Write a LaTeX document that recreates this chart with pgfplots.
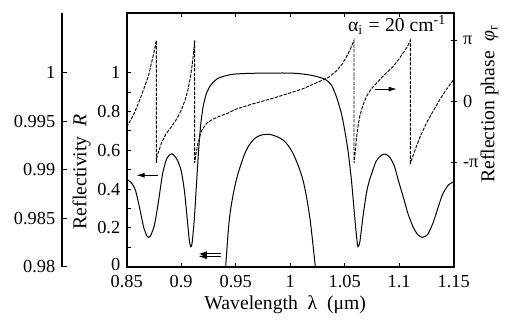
\documentclass[border=0pt]{standalone}
\usepackage{fontspec}
\setmainfont{Liberation Serif}
\usepackage{pgfplots}
\pgfplotsset{compat=1.18}
\usetikzlibrary{arrows.meta}

\begin{document}
\fontsize{11}{13}\selectfont
\begin{tikzpicture}
\pgfplotsset{
  common/.style={scale only axis, width=196.2pt, height=152.4pt,
    xmin=0.85, xmax=1.15, at={(0,0)}, anchor=south west,
    /pgf/number format/assume math mode=true,
    tick style={line width=0.6pt, black},
    major tick length=2.4pt, minor tick length=2.4pt,
    label style={font=\fontsize{11.8}{14}\selectfont}},
  phasestyle/.style={black, line width=0.55pt, dash pattern=on 2pt off 0.8pt},
}
\path[use as bounding box] (-76pt,-36.8pt) rectangle (233pt,160pt);

% ---------- main axis: reflectivity R ----------
\begin{axis}[common, ymin=0, ymax=1.3093,
  axis line style={line width=1.1pt},
  tick align=inside,
  xtick={0.85,0.9,0.95,1,1.05,1.1,1.15},
  xticklabels={0.85,0.9,0.95,1,1.05,1.1,1.15},
  xticklabel style={yshift=-1.3pt},
  xtick pos=both,
  ytick={0,0.2,0.4,0.6,0.8,1},
  yticklabels={\raisebox{3pt}{0},0.2,0.4,0.6,0.8,1},
  minor ytick={0.1,0.3,0.5,0.7,0.9},
  ytick pos=left,
  xlabel={Wavelength\ \ λ\ \ (μm)},
  xlabel style={at={(axis description cs:0.485,-0.150)}, anchor=center},
  ylabel={Reflectivity\ \ \textit{R}},
  ylabel style={at={(axis description cs:-0.138,0.373)}, anchor=center},
]
\addplot[black, line width=0.6pt, smooth, tension=0.4] coordinates {
(0.850,0.450) (0.854,0.435) (0.858,0.395) (0.862,0.300) (0.8655,0.205)
(0.8685,0.158) (0.8700,0.151) (0.8720,0.160) (0.8755,0.215) (0.8790,0.330)
(0.8830,0.480) (0.8870,0.560) (0.8915,0.582) (0.8960,0.555) (0.9000,0.495)
(0.9030,0.390) (0.9055,0.250) (0.9075,0.135) (0.9088,0.103) (0.9100,0.120)
(0.9120,0.240) (0.9140,0.420) (0.9160,0.600) (0.9180,0.735) (0.9200,0.820)
(0.9230,0.890) (0.9270,0.935) (0.9330,0.968) (0.9400,0.983) (0.9480,0.992)
(0.9600,0.996) (0.9800,0.998) (1.0000,0.998) (1.0100,0.994) (1.0200,0.986)
(1.0280,0.974) (1.0330,0.962) (1.0380,0.935) (1.0425,0.875) (1.0470,0.790)
(1.0500,0.705) (1.0530,0.600) (1.0562,0.447) (1.0590,0.270) (1.0610,0.150)
(1.0622,0.103) (1.0640,0.130) (1.0668,0.258) (1.0700,0.380) (1.0730,0.450)
(1.0790,0.545) (1.0840,0.575) (1.0875,0.580) (1.0915,0.563) (1.0955,0.520)
(1.1000,0.430) (1.1040,0.355) (1.1080,0.275) (1.1127,0.206) (1.1170,0.165)
(1.1213,0.151) (1.1260,0.165) (1.1310,0.224) (1.1360,0.310) (1.1400,0.375)
(1.1450,0.420) (1.1500,0.438)
};
\draw[-{Latex[length=5pt,width=3pt]}, line width=0.6pt] (axis cs:0.8788,0.471) -- (axis cs:0.8589,0.471);
\draw[-{Latex[length=5pt,width=3.4pt]}, line width=0.6pt] (axis cs:0.937,0.0655) -- (axis cs:0.916,0.0655);
\draw[-{Latex[length=5pt,width=3.4pt]}, line width=0.6pt] (axis cs:0.937,0.0526) -- (axis cs:0.916,0.0526);
\draw[-{Latex[length=5pt,width=3pt]}, line width=0.6pt] (axis cs:1.0775,0.9155) -- (axis cs:1.098,0.9155);
\node[anchor=east, inner sep=0pt, font=\fontsize{11.8}{14}\selectfont] at (axis cs:1.1433,1.246) {α\textsubscript{i}\;=\;20\ cm\textsuperscript{-1}};
\end{axis}

% ---------- phase axis (right) ----------
\begin{axis}[common, ymin=-2.692, ymax=1.452,
  hide x axis, axis y line*=right,
  axis line style={line width=1.1pt},
  tick align=center, major tick length=3.5pt,
  ytick={-1,0,1}, yticklabels={-π,0,π},
  ylabel={Reflection phase\ \ \textit{φ}\textsubscript{r}},
  ylabel style={at={(axis description cs:1.110,0.641)}, anchor=center},
]
\addplot[phasestyle] coordinates {
(0.850,-0.42) (0.853,-0.32) (0.857,-0.19) (0.862,0.03) (0.8665,0.245)
(0.870,0.42) (0.8727,0.626) (0.875,0.80) (0.8772,1.0) (0.8772,-1.0)
(0.878,-0.88) (0.880,-0.78) (0.8818,-0.68) (0.886,-0.53) (0.891,-0.41)
(0.896,-0.28) (0.9002,-0.135) (0.9035,0.02) (0.9062,0.19) (0.9085,0.40)
(0.9103,0.626) (0.9115,0.82) (0.9124,1.0) (0.9124,-1.0) (0.9135,-0.86)
(0.9154,-0.68) (0.9185,-0.48) (0.9230,-0.36) (0.9277,-0.30) (0.935,-0.24)
(0.9425,-0.19) (0.9506,-0.12) (0.9650,-0.04) (0.9812,0.04) (0.9960,0.12)
(1.0117,0.21) (1.0230,0.30) (1.0347,0.39) (1.0424,0.50) (1.0480,0.62)
(1.0516,0.73) (1.0550,0.85) (1.0586,1.0) (1.0586,-1.0) (1.0597,-0.82)
(1.0607,-0.625) (1.0620,-0.43) (1.0638,-0.245) (1.0665,-0.07) (1.0699,0.08)
(1.0740,0.20) (1.0791,0.30) (1.0860,0.43) (1.0943,0.57) (1.1000,0.70)
(1.1035,0.79) (1.1070,0.88) (1.1103,1.0) (1.1103,-1.0) (1.1130,-0.87)
(1.1158,-0.73) (1.1200,-0.54) (1.1250,-0.35) (1.1310,-0.16) (1.1372,0.03)
(1.1430,0.19) (1.1500,0.36)
};
\end{axis}

% ---------- magnified reflectivity (outer scale) ----------
\begin{axis}[common, ymin=0.98, ymax=1.00618, hide axis]
\addplot[black, line width=0.6pt, smooth, tension=0.5] coordinates {
(0.9395,0.9785) (0.9408,0.9800) (0.9445,0.98516) (0.9506,0.98894)
(0.9598,0.99202) (0.9690,0.99334) (0.9806,0.99364) (0.9934,0.99306)
(1.0026,0.99168) (1.0117,0.98894) (1.0179,0.98516) (1.0231,0.9800)
(1.0245,0.9785)
};
\end{axis}

% ---------- outer ruler axis ----------
\begin{axis}[scale only axis, width=1pt, height=152.4pt,
  at={(-39pt,0)}, anchor=south west,
  xmin=0, xmax=1, ymin=0.98, ymax=1.00618,
  axis x line=none, axis y line=left,
  axis line style={line width=1.1pt, -},
  tick style={line width=0.6pt, black},
  tick align=inside, major tick length=3pt,
  ytick={0.98,0.985,0.99,0.995,1},
  yticklabels={0.98,0.985,0.99,0.995,1},
]
\end{axis}
\end{tikzpicture}
\end{document}
